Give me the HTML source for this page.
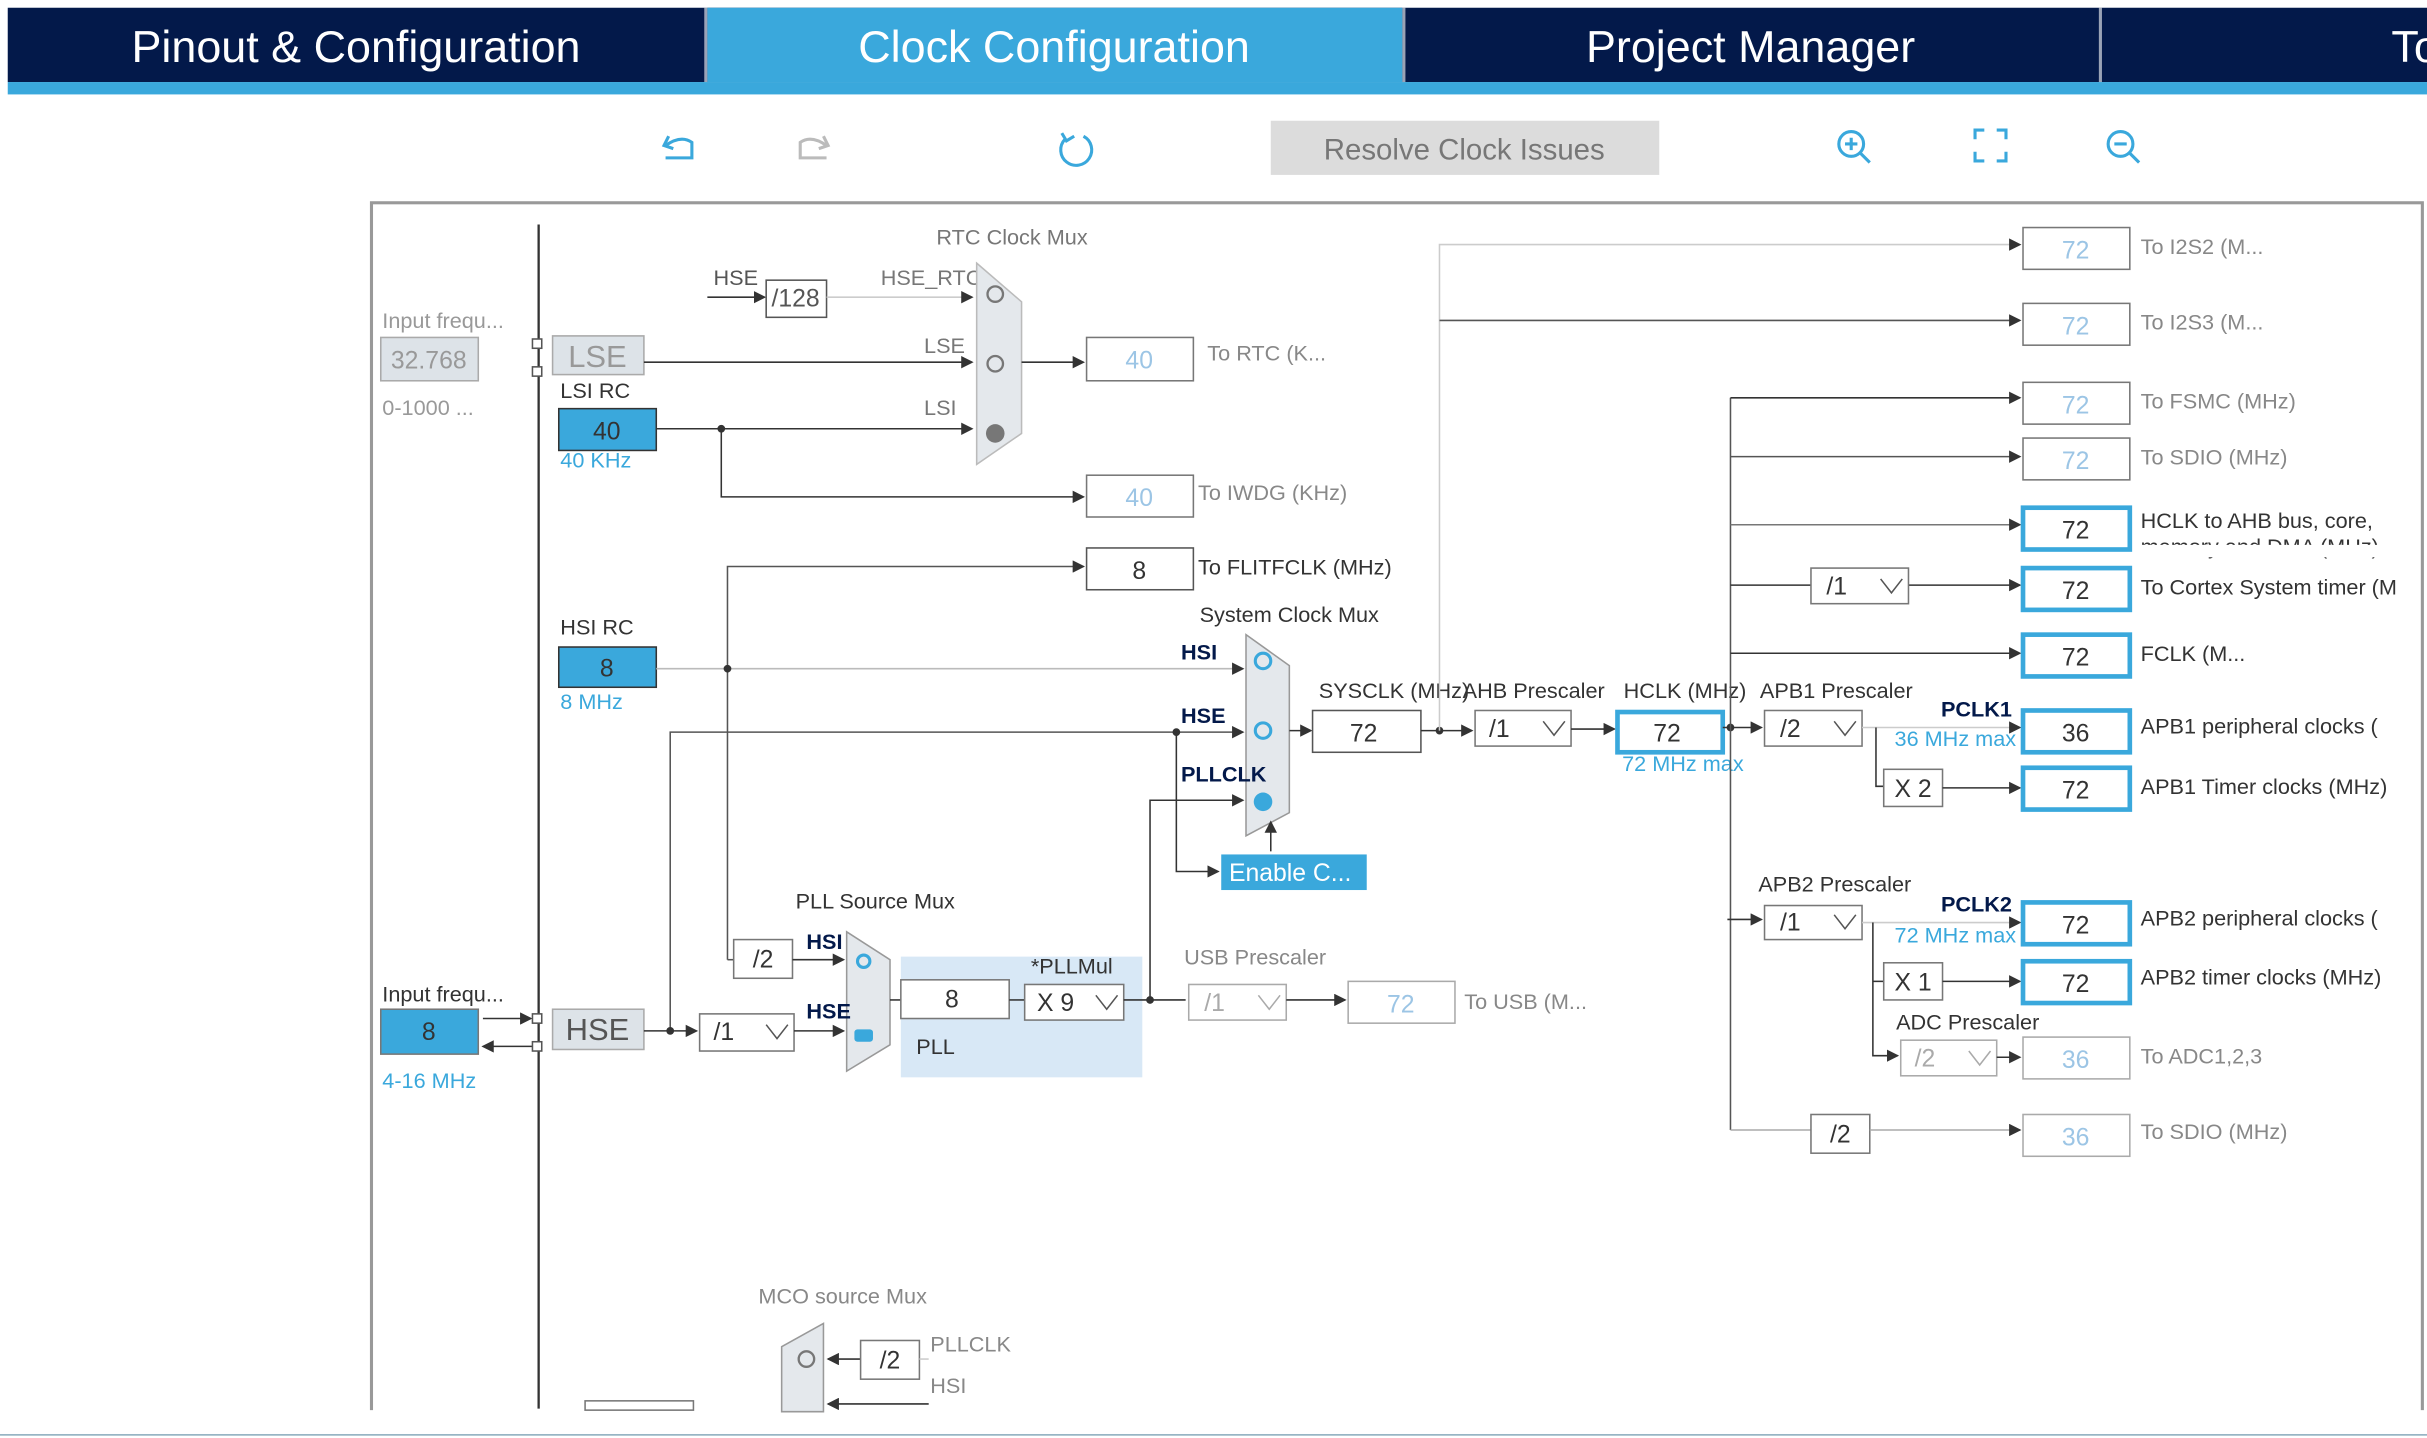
<!DOCTYPE html>
<html><head><meta charset="utf-8"><style>
html,body{margin:0;padding:0;background:#fff;width:2427px;height:1438px;overflow:hidden}
svg{display:block}
text{font-family:"Liberation Sans",sans-serif}
</style></head><body>
<svg width="2427" height="1438" viewBox="0 0 1568 929" preserveAspectRatio="none" xmlns="http://www.w3.org/2000/svg">
<defs>
<marker id="a" markerWidth="8" markerHeight="8" refX="7" refY="4" orient="auto" markerUnits="userSpaceOnUse"><path d="M0,0 L8,4 L0,8z" fill="#333"/></marker>
</defs>
<!-- header -->
<rect x="5" y="5" width="1563" height="48" fill="#03194a"/>
<rect x="5" y="53" width="1563" height="8" fill="#3aa8dc"/>
<rect x="457" y="5" width="449" height="48" fill="#3aa8dc"/>
<rect x="455" y="5" width="2" height="48" fill="#fff" opacity=".6"/>
<rect x="906" y="5" width="2" height="48" fill="#fff" opacity=".6"/>
<rect x="1356" y="5" width="2" height="48" fill="#fff" opacity=".6"/>
<g fill="#fff" font-size="29" text-anchor="middle">
<text x="230" y="40">Pinout &amp; Configuration</text>
<text x="681" y="40">Clock Configuration</text>
<text x="1131" y="40">Project Manager</text>
<text x="1545" y="40" text-anchor="start">To</text>
</g>
<!-- toolbar -->
<g fill="none" stroke-width="2">
<path d="M432,88 L429,94 L435,96 M430,94 Q440,87 447,92 L447,102 L430,102" stroke="#3aa8dc"/>
<path d="M532,88 L535,94 L529,96 M534,94 Q524,87 517,92 L517,102 L534,102" stroke="#bbb"/>
<path d="M700,88 A10,10 0 1 1 688,90 M686,86 L689,91 L694,88" stroke="#3aa8dc"/>
<circle cx="1196" cy="93" r="8" stroke="#3aa8dc"/><path d="M1202,99 L1208,105 M1192,93 L1200,93 M1196,89 L1196,97" stroke="#3aa8dc"/>
<path d="M1276,90 L1276,84 L1282,84 M1290,84 L1296,84 L1296,90 M1296,98 L1296,104 L1290,104 M1282,104 L1276,104 L1276,98" stroke="#3aa8dc"/>
<circle cx="1370" cy="93" r="8" stroke="#3aa8dc"/><path d="M1376,99 L1382,105 M1366,93 L1374,93" stroke="#3aa8dc"/>
</g>
<rect x="821" y="78" width="251" height="35" fill="#dcdcdc"/>
<text x="946" y="103" font-size="19" fill="#777" text-anchor="middle">Resolve Clock Issues</text>
<!-- frame -->
<rect x="240" y="131" width="1325" height="800" fill="none" stroke="#999" stroke-width="2"/>
<rect x="238" y="911" width="1330" height="20" fill="#fff"/>
<line x1="0" y1="927" x2="1568" y2="927" stroke="#8ab" stroke-width="1"/>
<line x1="348" y1="145" x2="348" y2="910" stroke="#333" stroke-width="1.5"/>

<g font-size="14" fill="#555">
<!-- left inputs -->
<text x="247" y="212" fill="#999">Input frequ...</text>
<rect x="246" y="218" width="63" height="28" fill="#dde3e8" stroke="#aaa"/>
<text x="277" y="238" font-size="16" fill="#999" text-anchor="middle">32.768</text>
<text x="247" y="268" fill="#999">0-1000 ...</text>
<rect x="344" y="219" width="6" height="6" fill="#fff" stroke="#555"/>
<rect x="344" y="237" width="6" height="6" fill="#fff" stroke="#555"/>
<rect x="357" y="217" width="59" height="25" fill="#dde3e8" stroke="#aaa"/>
<text x="386" y="237" font-size="20" fill="#999" text-anchor="middle">LSE</text>
<text x="362" y="257" fill="#333">LSI RC</text>
<rect x="361" y="264" width="63" height="27" fill="#3aa8dc" stroke="#333"/>
<text x="392" y="284" font-size="16" fill="#333" text-anchor="middle">40</text>
<text x="362" y="302" fill="#3aa8dc">40 KHz</text>

<text x="461" y="184" fill="#555">HSE</text>
<line x1="457" y1="192" x2="494" y2="192" stroke="#333" marker-end="url(#a)"/>
<rect x="495" y="181" width="39" height="24" fill="#fff" stroke="#555"/>
<text x="514" y="198" font-size="16" fill="#555" text-anchor="middle">/128</text>
<line x1="534" y1="192" x2="628" y2="192" stroke="#ccc" marker-end="url(#a)"/>
<text x="569" y="184" fill="#777">HSE_RTC</text>
<line x1="416" y1="234" x2="628" y2="234" stroke="#333" marker-end="url(#a)"/>
<text x="597" y="228" fill="#777">LSE</text>
<line x1="424" y1="277" x2="628" y2="277" stroke="#333" marker-end="url(#a)"/>
<text x="597" y="268" fill="#777">LSI</text>
<circle cx="466" cy="277" r="2.5" fill="#333"/>
<polyline points="466,277 466,321 700,321" fill="none" stroke="#333" marker-end="url(#a)"/>
<text x="605" y="158" fill="#777">RTC Clock Mux</text>
<polygon points="631,170 660,195 660,280 631,300" fill="#e4e8ec" stroke="#bbb"/>
<circle cx="643" cy="190" r="5" fill="none" stroke="#777" stroke-width="1.5"/>
<circle cx="643" cy="235" r="5" fill="none" stroke="#777" stroke-width="1.5"/>
<circle cx="643" cy="280" r="6" fill="#777"/>
<line x1="660" y1="234" x2="700" y2="234" stroke="#333" marker-end="url(#a)"/>
<rect x="702" y="218" width="69" height="28" fill="#fff" stroke="#777"/>
<text x="736" y="238" font-size="16" fill="#9cc5e5" text-anchor="middle">40</text>
<text x="780" y="233" fill="#888">To RTC (K...</text>
<rect x="702" y="307" width="69" height="27" fill="#fff" stroke="#777"/>
<text x="736" y="327" font-size="16" fill="#9cc5e5" text-anchor="middle">40</text>
<text x="774" y="323" fill="#888">To IWDG (KHz)</text>
<rect x="702" y="354" width="69" height="27" fill="#fff" stroke="#555"/>
<text x="736" y="374" font-size="16" fill="#333" text-anchor="middle">8</text>
<text x="774" y="371" fill="#333">To FLITFCLK (MHz)</text>

<polyline points="470,620 470,366 700,366" fill="none" stroke="#555" marker-end="url(#a)"/>
<text x="362" y="410" fill="#333">HSI RC</text>
<rect x="361" y="418" width="63" height="26" fill="#3aa8dc" stroke="#333"/>
<text x="392" y="437" font-size="16" fill="#333" text-anchor="middle">8</text>
<text x="362" y="458" fill="#3aa8dc">8 MHz</text>
<line x1="424" y1="432" x2="803" y2="432" stroke="#bbb" marker-end="url(#a)"/>
<circle cx="470" cy="432" r="2.5" fill="#333"/>
<polyline points="433,666 433,473 803,473" fill="none" stroke="#555" marker-end="url(#a)"/>
<polyline points="474,620 470,620" fill="none" stroke="#555"/>

<!-- system mux -->
<text x="775" y="402" fill="#333">System Clock Mux</text>
<polygon points="805,410 833,430 833,525 805,540" fill="#e4e8ec" stroke="#999"/>
<circle cx="816" cy="427" r="5" fill="none" stroke="#3aa8dc" stroke-width="2"/>
<circle cx="816" cy="472" r="5" fill="none" stroke="#3aa8dc" stroke-width="2"/>
<circle cx="816" cy="518" r="6" fill="#3aa8dc"/>
<g fill="#03194a" font-weight="bold"><text x="763" y="426">HSI</text><text x="763" y="467">HSE</text><text x="763" y="505">PLLCLK</text></g>
<polyline points="743,646 743,517 803,517" fill="none" stroke="#333" marker-end="url(#a)"/>
<polyline points="760,473 760,563 787,563" fill="none" stroke="#333" marker-end="url(#a)"/>
<circle cx="760" cy="473" r="2.5" fill="#333"/>
<rect x="789" y="552" width="94" height="23" fill="#3aa8dc"/>
<text x="794" y="569" font-size="16" fill="#fff">Enable C...</text>
<line x1="821" y1="550" x2="821" y2="531" stroke="#333" marker-end="url(#a)"/>

<line x1="833" y1="472" x2="847" y2="472" stroke="#333" marker-end="url(#a)"/>
<text x="852" y="451" fill="#333">SYSCLK (MHz)</text>
<rect x="848" y="459" width="70" height="27" fill="#fff" stroke="#555"/>
<text x="881" y="479" font-size="16" fill="#333" text-anchor="middle">72</text>
<line x1="918" y1="472" x2="951" y2="472" stroke="#333" marker-end="url(#a)"/>
<circle cx="930" cy="472" r="2.5" fill="#333"/>
<text x="945" y="451" fill="#333">AHB Prescaler</text>
<rect x="953" y="459" width="62" height="23" fill="#fff" stroke="#777"/>
<text x="962" y="476" font-size="16" fill="#333">/1</text>
<path d="M997,466 L1004,475 L1011,466" fill="none" stroke="#555"/>
<line x1="1015" y1="471" x2="1043" y2="471" stroke="#333" marker-end="url(#a)"/>
<text x="1049" y="451" fill="#333">HCLK (MHz)</text>
<rect x="1045" y="460" width="68" height="26" fill="#fff" stroke="#3aa8dc" stroke-width="3"/>
<text x="1077" y="479" font-size="16" fill="#333" text-anchor="middle">72</text>
<text x="1048" y="498" fill="#3aa8dc">72 MHz max</text>
<line x1="1113" y1="470" x2="1138" y2="470" stroke="#333" marker-end="url(#a)"/>
<circle cx="1118" cy="470" r="2.5" fill="#333"/>

<polyline points="930,472 930,158 1305,158" fill="none" stroke="#ccc" marker-end="url(#a)"/>
<line x1="930" y1="207" x2="1305" y2="207" stroke="#555" marker-end="url(#a)"/>
<line x1="1118" y1="257" x2="1118" y2="730" stroke="#555"/>
<line x1="1118" y1="257" x2="1305" y2="257" stroke="#333" marker-end="url(#a)"/>
<line x1="1118" y1="295" x2="1305" y2="295" stroke="#555" marker-end="url(#a)"/>
<line x1="1118" y1="339" x2="1305" y2="339" stroke="#777" marker-end="url(#a)"/>
<line x1="1118" y1="378" x2="1305" y2="378" stroke="#333" marker-end="url(#a)"/>
<rect x="1170" y="367" width="63" height="23" fill="#fff" stroke="#777"/>
<text x="1180" y="384" font-size="16" fill="#333">/1</text>
<path d="M1215,374 L1222,383 L1229,374" fill="none" stroke="#555"/>
<line x1="1118" y1="422" x2="1305" y2="422" stroke="#333" marker-end="url(#a)"/>

<text x="1137" y="451" fill="#333">APB1 Prescaler</text>
<rect x="1140" y="459" width="63" height="23" fill="#fff" stroke="#777"/>
<text x="1150" y="476" font-size="16" fill="#333">/2</text>
<path d="M1185,466 L1192,475 L1199,466" fill="none" stroke="#555"/>
<line x1="1203" y1="470" x2="1305" y2="470" stroke="#ccc" marker-end="url(#a)"/>
<text x="1254" y="463" fill="#03194a" font-weight="bold">PCLK1</text>
<text x="1224" y="482" fill="#3aa8dc">36 MHz max</text>
<polyline points="1212,470 1212,508 1217,508" fill="none" stroke="#333"/>
<rect x="1217" y="497" width="38" height="24" fill="#fff" stroke="#777"/>
<text x="1236" y="515" font-size="16" fill="#333" text-anchor="middle">X 2</text>
<line x1="1255" y1="509" x2="1305" y2="509" stroke="#333" marker-end="url(#a)"/>

<line x1="1116" y1="594" x2="1138" y2="594" stroke="#333" marker-end="url(#a)"/>
<text x="1136" y="576" fill="#333">APB2 Prescaler</text>
<rect x="1140" y="585" width="63" height="22" fill="#fff" stroke="#777"/>
<text x="1150" y="601" font-size="16" fill="#333">/1</text>
<path d="M1185,591 L1192,600 L1199,591" fill="none" stroke="#555"/>
<line x1="1203" y1="596" x2="1305" y2="596" stroke="#ccc" marker-end="url(#a)"/>
<text x="1254" y="589" fill="#03194a" font-weight="bold">PCLK2</text>
<text x="1224" y="609" fill="#3aa8dc">72 MHz max</text>
<polyline points="1210,596 1210,682 1226,682" fill="none" stroke="#333" marker-end="url(#a)"/>
<line x1="1210" y1="634" x2="1217" y2="634" stroke="#333"/>
<rect x="1217" y="622" width="38" height="24" fill="#fff" stroke="#777"/>
<text x="1236" y="640" font-size="16" fill="#333" text-anchor="middle">X 1</text>
<line x1="1255" y1="634" x2="1305" y2="634" stroke="#333" marker-end="url(#a)"/>
<text x="1225" y="665" fill="#333">ADC Prescaler</text>
<rect x="1228" y="672" width="62" height="23" fill="#fff" stroke="#aaa"/>
<text x="1237" y="689" font-size="16" fill="#aaa">/2</text>
<path d="M1272,679 L1279,688 L1286,679" fill="none" stroke="#aaa"/>
<line x1="1290" y1="683" x2="1305" y2="683" stroke="#333" marker-end="url(#a)"/>
<polyline points="1118,730 1170,730" fill="none" stroke="#aaa"/>
<rect x="1170" y="720" width="38" height="25" fill="#fff" stroke="#777"/>
<text x="1189" y="738" font-size="16" fill="#333" text-anchor="middle">/2</text>
<line x1="1208" y1="730" x2="1305" y2="730" stroke="#aaa" marker-end="url(#a)"/>

<!-- outputs -->
<g font-size="16" text-anchor="middle">
<rect x="1307" y="147" width="69" height="27" fill="#fff" stroke="#777"/><text x="1341" y="167" fill="#9cc5e5">72</text>
<rect x="1307" y="196" width="69" height="27" fill="#fff" stroke="#777"/><text x="1341" y="216" fill="#9cc5e5">72</text>
<rect x="1307" y="247" width="69" height="27" fill="#fff" stroke="#777"/><text x="1341" y="267" fill="#9cc5e5">72</text>
<rect x="1307" y="283" width="69" height="27" fill="#fff" stroke="#777"/><text x="1341" y="303" fill="#9cc5e5">72</text>
<rect x="1307" y="328" width="69" height="27" fill="#fff" stroke="#3aa8dc" stroke-width="3"/><text x="1341" y="348" fill="#333">72</text>
<rect x="1307" y="367" width="69" height="27" fill="#fff" stroke="#3aa8dc" stroke-width="3"/><text x="1341" y="387" fill="#333">72</text>
<rect x="1307" y="410" width="69" height="27" fill="#fff" stroke="#3aa8dc" stroke-width="3"/><text x="1341" y="430" fill="#333">72</text>
<rect x="1307" y="459" width="69" height="27" fill="#fff" stroke="#3aa8dc" stroke-width="3"/><text x="1341" y="479" fill="#333">36</text>
<rect x="1307" y="496" width="69" height="27" fill="#fff" stroke="#3aa8dc" stroke-width="3"/><text x="1341" y="516" fill="#333">72</text>
<rect x="1307" y="583" width="69" height="27" fill="#fff" stroke="#3aa8dc" stroke-width="3"/><text x="1341" y="603" fill="#333">72</text>
<rect x="1307" y="621" width="69" height="27" fill="#fff" stroke="#3aa8dc" stroke-width="3"/><text x="1341" y="641" fill="#333">72</text>
<rect x="1307" y="670" width="69" height="27" fill="#fff" stroke="#aaa"/><text x="1341" y="690" fill="#9cc5e5">36</text>
<rect x="1307" y="720" width="69" height="27" fill="#fff" stroke="#aaa"/><text x="1341" y="740" fill="#9cc5e5">36</text>
</g>
<g fill="#333">
<text x="1383" y="164" fill="#888">To I2S2 (M...</text>
<text x="1383" y="213" fill="#888">To I2S3 (M...</text>
<text x="1383" y="264" fill="#888">To FSMC (MHz)</text>
<text x="1383" y="300" fill="#888">To SDIO (MHz)</text>
<text x="1383" y="341">HCLK to AHB bus, core,</text>
<text x="1383" y="358">memory and DMA (MHz)</text>
<text x="1383" y="384">To Cortex System timer (M</text>
<text x="1383" y="427">FCLK (M...</text>
<text x="1383" y="474">APB1 peripheral clocks (</text>
<text x="1383" y="513">APB1 Timer clocks (MHz)</text>
<text x="1383" y="598">APB2 peripheral clocks (</text>
<text x="1383" y="636">APB2 timer clocks (MHz)</text>
<text x="1383" y="687" fill="#888">To ADC1,2,3</text>
<text x="1383" y="736" fill="#888">To SDIO (MHz)</text>
</g>
<rect x="1378" y="352" width="180" height="8" fill="#fff"/>

<!-- HSE input -->
<text x="247" y="647" fill="#333">Input frequ...</text>
<rect x="246" y="652" width="63" height="29" fill="#3aa8dc" stroke="#777"/>
<text x="277" y="672" font-size="16" fill="#333" text-anchor="middle">8</text>
<text x="247" y="703" fill="#3aa8dc">4-16 MHz</text>
<line x1="312" y1="658" x2="343" y2="658" stroke="#333" marker-end="url(#a)"/>
<line x1="345" y1="676" x2="312" y2="676" stroke="#333" marker-end="url(#a)"/>
<rect x="344" y="655" width="6" height="6" fill="#fff" stroke="#555"/>
<rect x="344" y="673" width="6" height="6" fill="#fff" stroke="#555"/>
<rect x="357" y="652" width="59" height="26" fill="#dde3e8" stroke="#aaa"/>
<text x="386" y="672" font-size="20" fill="#555" text-anchor="middle">HSE</text>
<line x1="416" y1="666" x2="450" y2="666" stroke="#333" marker-end="url(#a)"/>
<circle cx="433" cy="666" r="2.5" fill="#333"/>
<rect x="452" y="655" width="61" height="24" fill="#fff" stroke="#777"/>
<text x="461" y="672" font-size="16" fill="#333">/1</text>
<path d="M495,662 L502,671 L509,662" fill="none" stroke="#555"/>
<line x1="513" y1="666" x2="545" y2="666" stroke="#333" marker-end="url(#a)"/>
<rect x="474" y="607" width="38" height="25" fill="#fff" stroke="#777"/>
<text x="493" y="625" font-size="16" fill="#333" text-anchor="middle">/2</text>
<line x1="512" y1="620" x2="545" y2="620" stroke="#333" marker-end="url(#a)"/>
<text x="514" y="587" fill="#333">PLL Source Mux</text>
<polygon points="547,602 575,620 575,675 547,692" fill="#e4e8ec" stroke="#999"/>
<circle cx="558" cy="621" r="4" fill="none" stroke="#3aa8dc" stroke-width="2"/>
<rect x="552" y="665" width="12" height="8" rx="2" fill="#3aa8dc"/>
<g fill="#03194a" font-weight="bold"><text x="521" y="613">HSI</text><text x="521" y="658">HSE</text></g>
<line x1="575" y1="646" x2="582" y2="646" stroke="#333"/>
<rect x="582" y="618" width="156" height="78" fill="#d8e8f6"/>
<rect x="582" y="633" width="70" height="25" fill="#fff" stroke="#777"/>
<text x="615" y="651" font-size="16" fill="#333" text-anchor="middle">8</text>
<text x="592" y="681" fill="#333">PLL</text>
<text x="666" y="629" fill="#333">*PLLMul</text>
<line x1="652" y1="646" x2="662" y2="646" stroke="#333"/>
<rect x="662" y="636" width="64" height="23" fill="#fff" stroke="#777"/>
<text x="670" y="653" font-size="16" fill="#333">X 9</text>
<path d="M708,643 L715,652 L722,643" fill="none" stroke="#555"/>
<line x1="726" y1="646" x2="766" y2="646" stroke="#333"/>
<circle cx="743" cy="646" r="2.5" fill="#333"/>
<text x="765" y="623" fill="#888">USB Prescaler</text>
<rect x="768" y="636" width="63" height="23" fill="#fff" stroke="#aaa"/>
<text x="778" y="653" font-size="16" fill="#aaa">/1</text>
<path d="M813,643 L820,652 L827,643" fill="none" stroke="#aaa"/>
<line x1="831" y1="646" x2="869" y2="646" stroke="#333" marker-end="url(#a)"/>
<rect x="871" y="634" width="69" height="27" fill="#fff" stroke="#aaa"/>
<text x="905" y="654" font-size="16" fill="#9cc5e5" text-anchor="middle">72</text>
<text x="946" y="652" fill="#888">To USB (M...</text>

<!-- MCO -->
<text x="490" y="842" fill="#888">MCO source Mux</text>
<polygon points="505,870 532,855 532,912 505,912" fill="#e4e8ec" stroke="#999"/>
<circle cx="521" cy="878" r="5" fill="none" stroke="#777" stroke-width="1.5"/>
<line x1="556" y1="878" x2="535" y2="878" stroke="#333" marker-end="url(#a)"/>
<rect x="556" y="866" width="38" height="25" fill="#fff" stroke="#777"/>
<text x="575" y="884" font-size="16" fill="#333" text-anchor="middle">/2</text>
<line x1="600" y1="878" x2="594" y2="878" stroke="#ccc"/>
<text x="601" y="873" fill="#888">PLLCLK</text>
<line x1="600" y1="907" x2="535" y2="907" stroke="#333" marker-end="url(#a)"/>
<text x="601" y="900" fill="#888">HSI</text>
<rect x="378" y="905" width="70" height="6" fill="#fff" stroke="#777"/>
</g>
</svg>
</body></html>
